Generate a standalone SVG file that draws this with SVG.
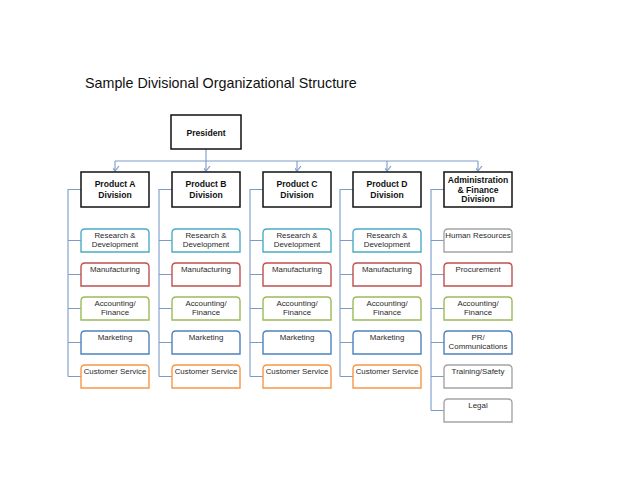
<svg xmlns="http://www.w3.org/2000/svg" width="638" height="478" viewBox="0 0 638 478">
<style>
text{font-family:"Liberation Sans",Arial,sans-serif;fill:#222;text-anchor:middle}
.t{font-size:14.3px;text-anchor:start;fill:#111}
.b{font-size:8.6px;font-weight:bold;fill:#111}
.s{font-size:7.9px;fill:#2a2a2a}
.box{fill:#fff;stroke:#111;stroke-width:1.5}
.c{fill:none;stroke:#7a9cca;stroke-width:1.1}
.tab{fill:#fff;stroke-width:1.4}
.teal{stroke:#4bacc6}.red{stroke:#c0504d}.green{stroke:#9bbb59}.blue{stroke:#4f81bd}.orange{stroke:#f79646}.gray{stroke:#a5a5a5}
</style>
<defs>
<path id="tb" d="M0,23 V4 Q0,0 4,0 H64 Q68,0 68,4 V23 Z"/>
<marker id="ar" viewBox="-5 -6 10 8" markerWidth="10" markerHeight="8" refX="0" refY="0" orient="auto" markerUnits="userSpaceOnUse">
<path d="M-4,-5 L0,0 L4,-5" transform="rotate(-90)" fill="none" stroke="#7a9cca" stroke-width="1.1"/>
</marker>
</defs>
<rect width="638" height="478" fill="#fff"/>
<text class="t" x="85" y="88">Sample Divisional Organizational Structure</text>

<g id="connectors">
<path class="c" d="M206,149 V161 M115,161 H478"/>
<path class="c" d="M115,161 V171" marker-end="url(#ar)"/>
<path class="c" d="M206,161 V171" marker-end="url(#ar)"/>
<path class="c" d="M297,161 V171" marker-end="url(#ar)"/>
<path class="c" d="M387,161 V171" marker-end="url(#ar)"/>
<path class="c" d="M478,161 V171" marker-end="url(#ar)"/>
<path class="c" d="M81,189.5 H68 V376.5 M68,240.5 H81 M68,274.5 H81 M68,308.5 H81 M68,342.5 H81 M68,376.5 H81"/>
<path class="c" d="M172,189.5 H159 V376.5 M159,240.5 H172 M159,274.5 H172 M159,308.5 H172 M159,342.5 H172 M159,376.5 H172"/>
<path class="c" d="M263,189.5 H250 V376.5 M250,240.5 H263 M250,274.5 H263 M250,308.5 H263 M250,342.5 H263 M250,376.5 H263"/>
<path class="c" d="M353,189.5 H340 V376.5 M340,240.5 H353 M340,274.5 H353 M340,308.5 H353 M340,342.5 H353 M340,376.5 H353"/>
<path class="c" d="M444,189.5 H431 V410.5 M431,240.5 H444 M431,274.5 H444 M431,308.5 H444 M431,342.5 H444 M431,376.5 H444 M431,410.5 H444"/>
</g>

<g id="president"><rect class="box" x="171" y="115" width="70" height="34"/><text class="b" x="206" y="135.5">President</text></g>

<g id="divA"><rect class="box" x="81" y="172" width="68" height="35"/><text class="b" x="115" y="187">Product A</text><text class="b" x="115" y="197.5">Division</text></g>
<g id="divB"><rect class="box" x="172" y="172" width="68" height="35"/><text class="b" x="206" y="187">Product B</text><text class="b" x="206" y="197.5">Division</text></g>
<g id="divC"><rect class="box" x="263" y="172" width="68" height="35"/><text class="b" x="297" y="187">Product C</text><text class="b" x="297" y="197.5">Division</text></g>
<g id="divD"><rect class="box" x="353" y="172" width="68" height="35"/><text class="b" x="387" y="187">Product D</text><text class="b" x="387" y="197.5">Division</text></g>
<g id="divAdmin"><rect class="box" x="444" y="172" width="68" height="35"/><text class="b" x="478" y="183">Administration</text><text class="b" x="478" y="192.5">&amp; Finance</text><text class="b" x="478" y="202">Division</text></g>

<g id="A1"><use href="#tb" class="tab teal" x="81" y="229"/><text class="s" x="115" y="238">Research &amp;</text><text class="s" x="115" y="247">Development</text></g>
<g id="A2"><use href="#tb" class="tab red" x="81" y="263"/><text class="s" x="115" y="272">Manufacturing</text></g>
<g id="A3"><use href="#tb" class="tab green" x="81" y="297"/><text class="s" x="115" y="306">Accounting/</text><text class="s" x="115" y="315">Finance</text></g>
<g id="A4"><use href="#tb" class="tab blue" x="81" y="331"/><text class="s" x="115" y="340">Marketing</text></g>
<g id="A5"><use href="#tb" class="tab orange" x="81" y="365"/><text class="s" x="115" y="374">Customer Service</text></g>

<g id="B1"><use href="#tb" class="tab teal" x="172" y="229"/><text class="s" x="206" y="238">Research &amp;</text><text class="s" x="206" y="247">Development</text></g>
<g id="B2"><use href="#tb" class="tab red" x="172" y="263"/><text class="s" x="206" y="272">Manufacturing</text></g>
<g id="B3"><use href="#tb" class="tab green" x="172" y="297"/><text class="s" x="206" y="306">Accounting/</text><text class="s" x="206" y="315">Finance</text></g>
<g id="B4"><use href="#tb" class="tab blue" x="172" y="331"/><text class="s" x="206" y="340">Marketing</text></g>
<g id="B5"><use href="#tb" class="tab orange" x="172" y="365"/><text class="s" x="206" y="374">Customer Service</text></g>

<g id="C1"><use href="#tb" class="tab teal" x="263" y="229"/><text class="s" x="297" y="238">Research &amp;</text><text class="s" x="297" y="247">Development</text></g>
<g id="C2"><use href="#tb" class="tab red" x="263" y="263"/><text class="s" x="297" y="272">Manufacturing</text></g>
<g id="C3"><use href="#tb" class="tab green" x="263" y="297"/><text class="s" x="297" y="306">Accounting/</text><text class="s" x="297" y="315">Finance</text></g>
<g id="C4"><use href="#tb" class="tab blue" x="263" y="331"/><text class="s" x="297" y="340">Marketing</text></g>
<g id="C5"><use href="#tb" class="tab orange" x="263" y="365"/><text class="s" x="297" y="374">Customer Service</text></g>

<g id="D1"><use href="#tb" class="tab teal" x="353" y="229"/><text class="s" x="387" y="238">Research &amp;</text><text class="s" x="387" y="247">Development</text></g>
<g id="D2"><use href="#tb" class="tab red" x="353" y="263"/><text class="s" x="387" y="272">Manufacturing</text></g>
<g id="D3"><use href="#tb" class="tab green" x="353" y="297"/><text class="s" x="387" y="306">Accounting/</text><text class="s" x="387" y="315">Finance</text></g>
<g id="D4"><use href="#tb" class="tab blue" x="353" y="331"/><text class="s" x="387" y="340">Marketing</text></g>
<g id="D5"><use href="#tb" class="tab orange" x="353" y="365"/><text class="s" x="387" y="374">Customer Service</text></g>

<g id="E1"><use href="#tb" class="tab gray" x="444" y="229"/><text class="s" x="478" y="238">Human Resources</text></g>
<g id="E2"><use href="#tb" class="tab red" x="444" y="263"/><text class="s" x="478" y="272">Procurement</text></g>
<g id="E3"><use href="#tb" class="tab green" x="444" y="297"/><text class="s" x="478" y="306">Accounting/</text><text class="s" x="478" y="315">Finance</text></g>
<g id="E4"><use href="#tb" class="tab blue" x="444" y="331"/><text class="s" x="478" y="340">PR/</text><text class="s" x="478" y="349">Communications</text></g>
<g id="E5"><use href="#tb" class="tab gray" x="444" y="365"/><text class="s" x="478" y="374">Training/Safety</text></g>
<g id="E6"><use href="#tb" class="tab gray" x="444" y="399"/><text class="s" x="478" y="408">Legal</text></g>
</svg>
